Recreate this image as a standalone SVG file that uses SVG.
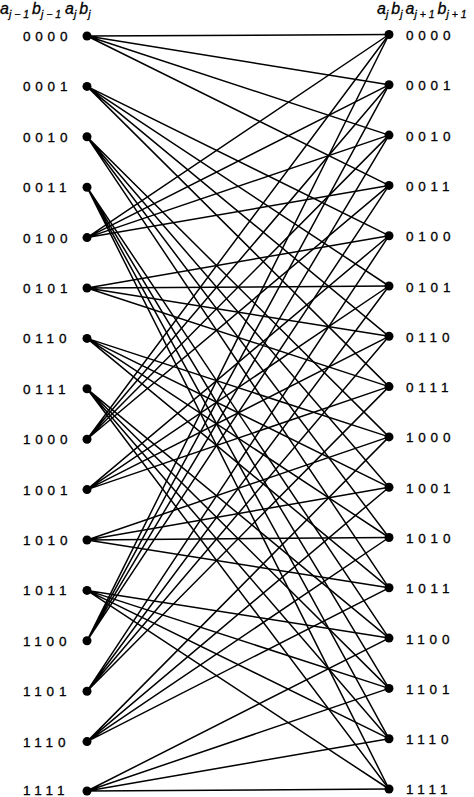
<svg xmlns="http://www.w3.org/2000/svg" width="474" height="797" viewBox="0 0 474 797">
<style>
.e{stroke:#000;stroke-width:1.5;fill:none}
.d{fill:#000}
.l{font-family:"Liberation Sans",Arial,sans-serif;font-size:13.5px;letter-spacing:4.8px;fill:#000;stroke:#000;stroke-width:0.3}
.h{font-family:"Liberation Sans",Arial,sans-serif;font-style:italic;font-size:16px;fill:#000;stroke:#000;stroke-width:0.3}
.s{font-size:10.5px}
</style>
<rect width="474" height="797" fill="#fff"/>
<text class="h" x="0" y="14">a<tspan class="s" dy="4">j − 1</tspan><tspan dy="-4" dx="3">b</tspan><tspan class="s" dy="4">j − 1</tspan><tspan dy="-4" dx="4">a</tspan><tspan class="s" dy="4">j</tspan><tspan dy="-4" dx="3">b</tspan><tspan class="s" dy="4">j</tspan></text>
<text class="h" x="377" y="14">a<tspan class="s" dy="4">j</tspan><tspan dy="-4" dx="3">b</tspan><tspan class="s" dy="4">j</tspan><tspan dy="-4" dx="3">a</tspan><tspan class="s" dy="4">j + 1</tspan><tspan dy="-4" dx="3">b</tspan><tspan class="s" dy="4">j + 1</tspan></text>
<g id="connectors">
<path class="e" d="M87 36L389 34.5M87 36L389 84.8M87 36L389 135.1M87 36L389 185.4"/>
<path class="e" d="M87 86.4L389 235.7M87 86.4L389 286M87 86.4L389 336.3M87 86.4L389 386.6"/>
<path class="e" d="M87 136.8L389 436.9M87 136.8L389 487.2M87 136.8L389 537.5M87 136.8L389 587.8"/>
<path class="e" d="M87 187.2L389 638.1M87 187.2L389 688.4M87 187.2L389 738.7M87 187.2L389 789"/>
<path class="e" d="M87 237.6L389 34.5M87 237.6L389 84.8M87 237.6L389 135.1M87 237.6L389 185.4"/>
<path class="e" d="M87 288L389 235.7M87 288L389 286M87 288L389 336.3M87 288L389 386.6"/>
<path class="e" d="M87 338.4L389 436.9M87 338.4L389 487.2M87 338.4L389 537.5M87 338.4L389 587.8"/>
<path class="e" d="M87 388.8L389 638.1M87 388.8L389 688.4M87 388.8L389 738.7M87 388.8L389 789"/>
<path class="e" d="M87 439.2L389 34.5M87 439.2L389 84.8M87 439.2L389 135.1M87 439.2L389 185.4"/>
<path class="e" d="M87 489.6L389 235.7M87 489.6L389 286M87 489.6L389 336.3M87 489.6L389 386.6"/>
<path class="e" d="M87 540L389 436.9M87 540L389 487.2M87 540L389 537.5M87 540L389 587.8"/>
<path class="e" d="M87 590.4L389 638.1M87 590.4L389 688.4M87 590.4L389 738.7M87 590.4L389 789"/>
<path class="e" d="M87 640.8L389 34.5M87 640.8L389 84.8M87 640.8L389 135.1M87 640.8L389 185.4"/>
<path class="e" d="M87 691.2L389 235.7M87 691.2L389 286M87 691.2L389 336.3M87 691.2L389 386.6"/>
<path class="e" d="M87 741.6L389 436.9M87 741.6L389 487.2M87 741.6L389 537.5M87 741.6L389 587.8"/>
<path class="e" d="M87 791L389 638.1M87 791L389 688.4M87 791L389 738.7M87 791L389 789"/>
</g>
<g id="left-nodes">
<g id="L0000"><circle class="d" cx="87" cy="36" r="4.5"/><text class="l" x="23" y="41">0000</text></g>
<g id="L0001"><circle class="d" cx="87" cy="86.4" r="4.5"/><text class="l" x="23" y="91.4">0001</text></g>
<g id="L0010"><circle class="d" cx="87" cy="136.8" r="4.5"/><text class="l" x="23" y="141.8">0010</text></g>
<g id="L0011"><circle class="d" cx="87" cy="187.2" r="4.5"/><text class="l" x="23" y="192.2">0011</text></g>
<g id="L0100"><circle class="d" cx="87" cy="237.6" r="4.5"/><text class="l" x="23" y="242.6">0100</text></g>
<g id="L0101"><circle class="d" cx="87" cy="288" r="4.5"/><text class="l" x="23" y="293">0101</text></g>
<g id="L0110"><circle class="d" cx="87" cy="338.4" r="4.5"/><text class="l" x="23" y="343.4">0110</text></g>
<g id="L0111"><circle class="d" cx="87" cy="388.8" r="4.5"/><text class="l" x="23" y="393.8">0111</text></g>
<g id="L1000"><circle class="d" cx="87" cy="439.2" r="4.5"/><text class="l" x="23" y="444.2">1000</text></g>
<g id="L1001"><circle class="d" cx="87" cy="489.6" r="4.5"/><text class="l" x="23" y="494.6">1001</text></g>
<g id="L1010"><circle class="d" cx="87" cy="540" r="4.5"/><text class="l" x="23" y="545">1010</text></g>
<g id="L1011"><circle class="d" cx="87" cy="590.4" r="4.5"/><text class="l" x="23" y="595.4">1011</text></g>
<g id="L1100"><circle class="d" cx="87" cy="640.8" r="4.5"/><text class="l" x="23" y="645.8">1100</text></g>
<g id="L1101"><circle class="d" cx="87" cy="691.2" r="4.5"/><text class="l" x="23" y="696.2">1101</text></g>
<g id="L1110"><circle class="d" cx="87" cy="741.6" r="4.5"/><text class="l" x="23" y="746.6">1110</text></g>
<g id="L1111"><circle class="d" cx="87" cy="791" r="4.5"/><text class="l" x="23" y="794.5">1111</text></g>
</g>
<g id="right-nodes">
<g id="R0000"><circle class="d" cx="389" cy="34.5" r="4.5"/><text class="l" x="406" y="40">0000</text></g>
<g id="R0001"><circle class="d" cx="389" cy="84.8" r="4.5"/><text class="l" x="406" y="90.3">0001</text></g>
<g id="R0010"><circle class="d" cx="389" cy="135.1" r="4.5"/><text class="l" x="406" y="140.6">0010</text></g>
<g id="R0011"><circle class="d" cx="389" cy="185.4" r="4.5"/><text class="l" x="406" y="190.9">0011</text></g>
<g id="R0100"><circle class="d" cx="389" cy="235.7" r="4.5"/><text class="l" x="406" y="241.2">0100</text></g>
<g id="R0101"><circle class="d" cx="389" cy="286" r="4.5"/><text class="l" x="406" y="291.5">0101</text></g>
<g id="R0110"><circle class="d" cx="389" cy="336.3" r="4.5"/><text class="l" x="406" y="341.8">0110</text></g>
<g id="R0111"><circle class="d" cx="389" cy="386.6" r="4.5"/><text class="l" x="406" y="392.1">0111</text></g>
<g id="R1000"><circle class="d" cx="389" cy="436.9" r="4.5"/><text class="l" x="406" y="442.4">1000</text></g>
<g id="R1001"><circle class="d" cx="389" cy="487.2" r="4.5"/><text class="l" x="406" y="492.7">1001</text></g>
<g id="R1010"><circle class="d" cx="389" cy="537.5" r="4.5"/><text class="l" x="406" y="543">1010</text></g>
<g id="R1011"><circle class="d" cx="389" cy="587.8" r="4.5"/><text class="l" x="406" y="593.3">1011</text></g>
<g id="R1100"><circle class="d" cx="389" cy="638.1" r="4.5"/><text class="l" x="406" y="643.6">1100</text></g>
<g id="R1101"><circle class="d" cx="389" cy="688.4" r="4.5"/><text class="l" x="406" y="693.9">1101</text></g>
<g id="R1110"><circle class="d" cx="389" cy="738.7" r="4.5"/><text class="l" x="406" y="744.2">1110</text></g>
<g id="R1111"><circle class="d" cx="389" cy="789" r="4.5"/><text class="l" x="406" y="794">1111</text></g>
</g>
</svg>
